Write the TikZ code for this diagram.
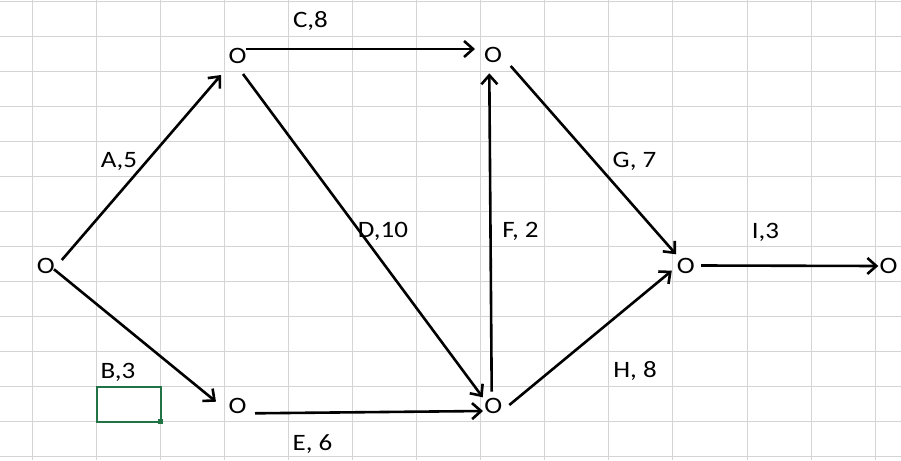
\documentclass[tikz,border=0pt]{standalone}
\usepackage{fontspec}
\setmainfont{Carlito}[FakeStretch=1.15]
\usetikzlibrary{calc}
\usetikzlibrary{arrows.meta}
\definecolor{cellgrid}{RGB}{212,212,212}
\definecolor{xlgreen}{RGB}{33,115,70}

\begin{document}
\begin{tikzpicture} [x=1pt, y=-1pt, font=\fontsize{23.5}{28}\selectfont,
  arr/.style={black, line width=2.6pt, -{Straight Barb[length=9pt,width=16pt]}}]
\useasboundingbox (0,0) rectangle (901,460);
\fill[white] (0,0) rectangle (901,460);

\foreach \i in {0,...,10} \draw[cellgrid, line width=1pt] (32.7+64*\i,0)--++(0,460);
\foreach \x in {747.7, 811.7, 875.7} \draw[cellgrid, line width=1pt] (\x,0)--++(0,460);
\foreach \j in {0,...,13} \draw[cellgrid, line width=1pt] (0,1.6+35*\j)--++(901,0);

\draw[xlgreen, line width=2pt] (96.7,386.7) rectangle (160.7,421.7);
\fill[xlgreen] (158.2,419.2) rectangle ++(5,5);

\node (v1) at (45.8,265.5) {O};
\node (v2) at (237.5,55.5) {O};
\node (v3) at (237.5,406) {O};
\node (v4) at (493,55.3) {O};
\node (v5) at (493.3,405.5) {O};
\node (v6) at (685.8,265.5) {O};
\node (v7) at (888.5,265.5) {O};

\draw[arr] ($(v1)+(16,-5.5)$) -- ($(v2)+(-16.5,19.5)$);
\draw[arr] ($(v1)+(8.2,3.8)$) -- ($(v3)+(-21.5,-4.3)$);
\draw[arr] ($(v2)+(8.5,-6.5)$) -- ($(v4)+(-18,-6.3)$);
\draw[arr] ($(v2)+(5.5,18.5)$) -- ($(v5)+(-10.6,-8.2)$);
\draw[arr] ($(v3)+(17.5,7.3)$) -- ($(v5)+(-10.3,5.5)$);
\draw[arr] ($(v5)+(-1.6,-13.8)$) -- ($(v4)+(-3.7,18)$);
\draw[arr] ($(v4)+(17.7,10.7)$) -- ($(v6)+(-9.8,-11.2)$);
\draw[arr] ($(v5)+(16,-0.5)$) -- ($(v6)+(-14,5.2)$);
\draw[arr] ($(v6)+(15.2,0)$) -- ($(v7)+(-10.2,0.5)$);

\node (lA) at (119,161) {A,5};
\node (lB) at (118,372) {B,3};
\node (lC) at (310.5,21) {C,8};
\node (lD) at (383,231) {D,10};
\node (lE) at (312.5,444) {E, 6};
\node (lF) at (520.5,231) {F, 2};
\node (lG) at (634.5,161) {G, 7};
\node (lH) at (635,371) {H, 8};
\node (lI) at (765.5,232) {I,3};

\end{tikzpicture}
\end{document}
